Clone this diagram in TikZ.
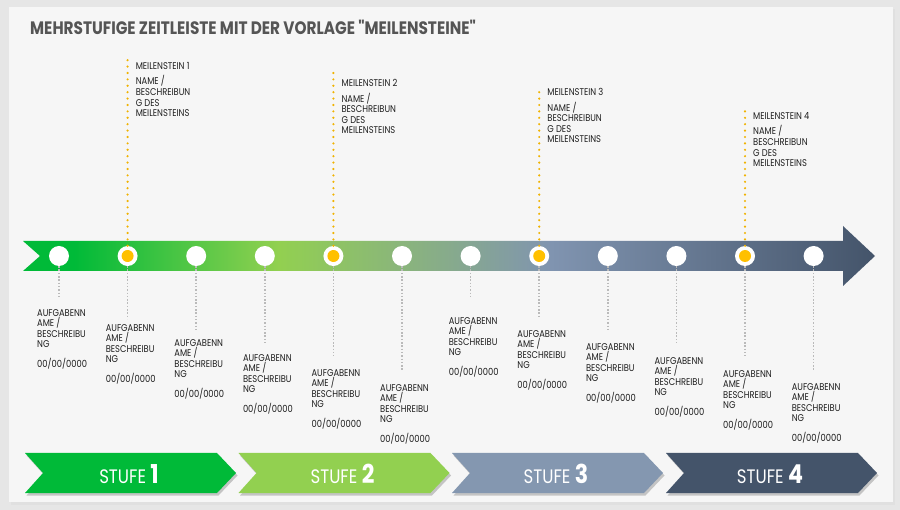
\documentclass[tikz,border=0pt]{standalone}
\usepackage{fontspec}
\setmainfont{Poppins}[FakeStretch=0.85]
\newfontfamily\titlefont{Poppins}[FakeStretch=0.85]
\usetikzlibrary{positioning}

\definecolor{stufeA}{RGB}{0,186,56}
\definecolor{stufeB}{RGB}{146,208,80}
\definecolor{bandC}{RGB}{128,148,176}
\definecolor{stufeC}{RGB}{132,151,176}
\definecolor{stufeD}{RGB}{68,84,106}
\definecolor{gold}{RGB}{255,192,0}
\definecolor{golddot}{RGB}{240,178,0}
\definecolor{titlegrey}{RGB}{85,85,85}
\definecolor{textgrey}{RGB}{30,30,30}
\definecolor{card}{RGB}{246,246,246}
\definecolor{outer}{RGB}{230,230,230}

\pgfdeclarehorizontalshading{bandshade}{100bp}{%
  color(0bp)=(stufeA); color(25bp)=(stufeA); color(28bp)=(stufeA);
  color(40bp)=(stufeB); color(56bp)=(bandC);
  color(75bp)=(stufeD); color(100bp)=(stufeD)}

\tikzset{
  knot/.style={circle, fill=white, inner sep=0pt, minimum size=20pt},
  kern/.style={circle, fill=gold, inner sep=0pt, minimum size=12pt},
  msline/.style={golddot, line width=2.4pt, line cap=round, dash pattern=on 0pt off 6.4pt},
  taskline/.style={black!27, line width=1.5pt, dash pattern=on 1.5pt off 1.8pt},
  mstext/.style={anchor=north west, align=left, inner sep=0pt, text=textgrey,
    font=\fontsize{9.8}{10.6}\selectfont},
  tasktext/.style={anchor=north west, align=left, inner sep=0pt, text=textgrey,
    font=\fontsize{9.8}{10.6}\selectfont},
  titletext/.style={anchor=base west, inner sep=0pt, text=titlegrey,
    font=\titlefont\fontsize{18}{20}\selectfont\bfseries},
  stufetext/.style={anchor=base, inner sep=0pt, text=white,
    font=\fontsize{19.5}{21}\selectfont}
}

\begin{document}
\begin{tikzpicture}[x=1pt,y=-1pt]

% ------------------------------------------------------------------
% Page and card
% ------------------------------------------------------------------
\useasboundingbox (0,0) rectangle (900,510);
\fill[outer] (0,0) rectangle (900,510);
\fill[black!12] (11,9) rectangle (895,505);
\fill[card] (9,7) rectangle (893,502);

\node[titletext] (title) at (30,35)
  {MEHRSTUFIGE ZEITLEISTE MIT DER VORLAGE "MEILENSTEINE"};

% ------------------------------------------------------------------
% Timeline arrow with its twelve knots
% ------------------------------------------------------------------
\shade[shading=bandshade] (23,241) -- (843,241) -- (843,226) -- (875,256)
  -- (843,286) -- (843,271) -- (23,271) -- (40,256) -- cycle;

\foreach \i in {1,...,12}
  \node[knot] (k\i) at ({59+68.6*(\i-1)},256) {};
\foreach \i in {2,5,8,11}
  \node[kern] (g\i) at (k\i) {};

% Milestones: \meilenstein{knot}{number}{top of line}{top of text}
\newcommand{\meilenstein}[4]{%
  \coordinate (top#2) at (k#1 |- 0,#3);
  \draw[msline] (k#1.north) -- (top#2);
  \node[mstext, xshift=8pt] (ms#2) at (k#1 |- 0,#4)
    {MEILENSTEIN #2\\[5pt]NAME /\\BESCHREIBUN\\G DES\\MEILENSTEINS};
}

% Tasks: \aufgabe{knot}{end of line}{top of text}
\newcommand{\aufgabe}[3]{%
  \coordinate (end#1) at (k#1 |- 0,#2);
  \draw[taskline] (k#1.south) -- (end#1);
  \node[tasktext, xshift=-22pt] (t#1) at (k#1 |- 0,#3)
    {AUFGABENN\\AME /\\BESCHREIBU\\NG\\[8.5pt]00/00/0000};
}

\meilenstein{2}{1}{55}{62}
\meilenstein{5}{2}{73}{79}
\meilenstein{8}{3}{86}{88}
\meilenstein{11}{4}{108}{112}

\foreach \k/\e/\t in {1/298/309, 2/319/324, 3/332/339, 4/343/354,
                      5/356/369, 6/370/384, 7/297/317, 8/318/330,
                      9/332/343, 10/343/357, 11/356/370, 12/371/383}
  \aufgabe{\k}{\e}{\t};

% ------------------------------------------------------------------
% Stages: \stufe{number}{left x}{fill}
% ------------------------------------------------------------------
\newcommand{\stufe}[3]{%
  \fill[black, opacity=0.2] (#2+1.5,455.5) -- ++(192,0) -- ++(19,20) -- ++(-19,20)
    -- ++(-192,0) -- ++(18,-20) -- cycle;
  \fill[#3] (#2,453) -- ++(192,0) -- ++(19,20) -- ++(-19,20)
    -- ++(-192,0) -- ++(18,-20) -- cycle;
  \node[stufetext] (s#1) at (#2+104,484)
    {STUFE {\fontsize{26}{26}\selectfont\bfseries #1}};
}

\stufe{1}{25}{stufeA}
\stufe{2}{238.5}{stufeB}
\stufe{3}{452}{stufeC}
\stufe{4}{666}{stufeD}

\end{tikzpicture}
\end{document}
